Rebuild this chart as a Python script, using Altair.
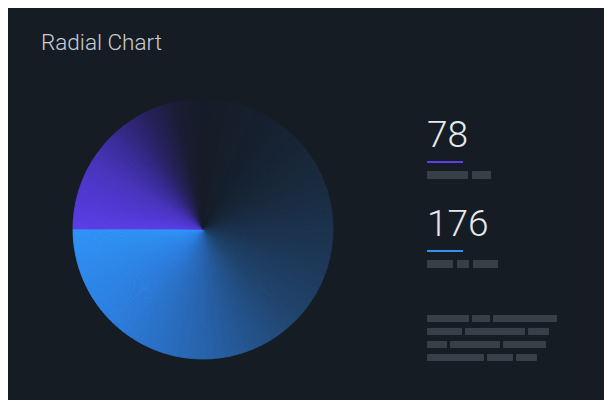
import math
import altair as alt
import pandas as pd

# ---------------- data ----------------
TITLE = "Radial Chart"

# pie segments, in degrees of a full 360° turn
segments = ["Blue", "Purple", "Rest"]
segment_values = [176, 78, 106]

# KPI panel
kpi_labels = ["78", "176"]
kpi_colors = ["#5c3fe6", "#3b8df7"]
kpi_caption_widths = [[41, 19], [26, 12, 25]]

# placeholder paragraph (word lengths per line)
paragraph_widths = [[42, 18, 64], [35, 60, 21], [20, 50, 43], [57, 26, 21]]

# ---------------- layout / style ----------------
W, H = 596, 392
BG = "#161c24"
CX, CY, R = 195, 221, 130
START_DEG = 94          # the blue slice starts just below 3 o'clock
PANEL_X = 419
KPI_Y0, KPI_DY = 139, 89
GAP = 4
PARA_Y0, PARA_DY, PARA_H, PARA_GAP = 307, 13, 7, 3
BAR_COLOR = "#393f48"

# conic shading ramps (angle in degrees clockwise from 12 o'clock -> colour)
shade_ramps = {
    "Blue": ([94, 135, 180, 225, 270],
             ["#1d3450", "#22466f", "#2964ae", "#2e7fe0", "#3194f8"]),
    "Purple": ([270, 285, 300, 315, 330, 348],
               ["#5b40e8", "#5239d4", "#4a36c0", "#3c2d9c", "#2b246a", "#1b1d33"]),
    "Rest": ([348, 360, 390, 420, 454],
             ["#1b1d33", "#161d28", "#17212f", "#1a293c", "#1d3450"]),
}

xs = alt.Scale(domain=[0, W], nice=False, zero=False)
ys = alt.Scale(domain=[0, H], nice=False, zero=False, reverse=True)

# ---------------- pie (each slice shaded as a conic sweep) ----------------
band_rows = []
start = 0
for seg, val in zip(segments, segment_values):
    n = int(round(val))
    for k in range(n):
        s = start + val * k / n
        e = start + val * (k + 1) / n
        band_rows.append({"segment": seg, "start": s, "end": e,
                          "ang": START_DEG + (s + e) / 2})
    start += val
bands = pd.DataFrame(band_rows)

a0 = math.radians(START_DEG)
theta_scale = alt.Scale(domain=[0, sum(segment_values)], range=[a0, a0 + 2 * math.pi])

arcs = []
for seg in segments:
    dom, rng = shade_ramps[seg]
    sc = alt.Scale(domain=dom, range=rng, interpolate="rgb", clamp=True)
    arcs.append(
        alt.Chart(bands)
        .transform_filter(alt.datum.segment == seg)
        .mark_arc(radius=R, strokeWidth=0.8)
        .encode(
            theta=alt.Theta("start:Q", stack=False, scale=theta_scale),
            theta2=alt.Theta2("end:Q"),
            color=alt.Color("ang:Q", scale=sc, legend=None),
            stroke=alt.Stroke("ang:Q", scale=sc, legend=None),
            x=alt.value(CX),
            y=alt.value(CY),
        )
    )

# ---------------- title ----------------
title = (
    alt.Chart(pd.DataFrame({"t": [TITLE]}))
    .mark_text(align="left", baseline="alphabetic", font="Roboto", fontWeight=300,
               fontSize=22.5, color="#c9ced4")
    .encode(text="t:N", x=alt.value(33), y=alt.value(42))
)

# ---------------- KPI panel ----------------
kpi = pd.DataFrame({"label": kpi_labels, "color": kpi_colors})
kpi["x"] = PANEL_X
kpi["y"] = [KPI_Y0 + i * KPI_DY for i in range(len(kpi))]
kpi["ly"] = kpi["y"] + 15
kpi["lx2"] = PANEL_X + 36

kpi_text = (
    alt.Chart(kpi)
    .mark_text(align="left", baseline="alphabetic", font="Roboto", fontWeight=300,
               fontSize=37, color="#e6e9ec")
    .encode(x=alt.X("x:Q", scale=xs, axis=None), y=alt.Y("y:Q", scale=ys, axis=None),
            text="label:N")
)
kpi_line = (
    alt.Chart(kpi)
    .mark_rule(strokeWidth=2)
    .encode(x=alt.X("x:Q", scale=xs, axis=None), x2="lx2:Q",
            y=alt.Y("ly:Q", scale=ys, axis=None),
            color=alt.Color("color:N", scale=None))
)

rows = []
for i, widths in enumerate(kpi_caption_widths):
    x = PANEL_X
    top = KPI_Y0 + i * KPI_DY + 24
    for w in widths:
        rows.append({"x": x, "x2": x + w, "y": top, "y2": top + 8})
        x += w + GAP
for j, widths in enumerate(paragraph_widths):
    x = PANEL_X
    top = PARA_Y0 + j * PARA_DY
    for w in widths:
        rows.append({"x": x, "x2": x + w, "y": top, "y2": top + PARA_H})
        x += w + PARA_GAP
bars = pd.DataFrame(rows)

bar_layer = (
    alt.Chart(bars)
    .mark_rect(color=BAR_COLOR, cornerRadius=1)
    .encode(x=alt.X("x:Q", scale=xs, axis=None), x2="x2:Q",
            y=alt.Y("y:Q", scale=ys, axis=None), y2="y2:Q")
)

chart = (
    alt.layer(*arcs, title, kpi_text, kpi_line, bar_layer)
    .resolve_scale(color="independent", stroke="independent")
    .properties(width=W, height=H, background=BG, padding=0, autosize="none")
    .configure_view(strokeWidth=0)
)

chart.save("out.html", embed_options={"renderer": "svg", "actions": False})
